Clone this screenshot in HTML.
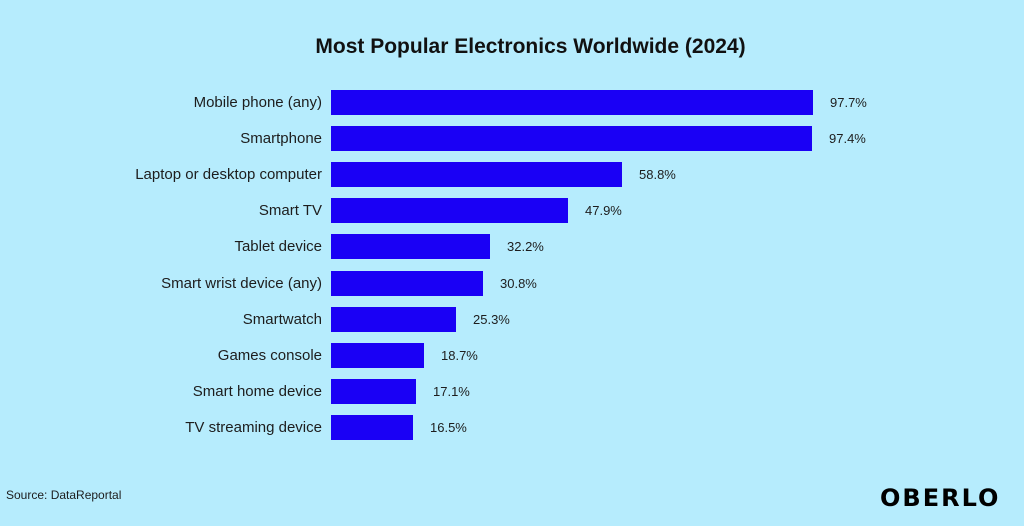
<!DOCTYPE html><html><head><style>
body{margin:0;width:1024px;height:526px;background:#b6ecfd;font-family:"Liberation Sans",sans-serif;position:relative;overflow:hidden;color:#1d1d1d}
.t{position:absolute;top:35px;left:0;width:1061px;text-align:center;font-weight:bold;font-size:21px;color:#111}
.l{position:absolute;right:702px;font-size:15px;text-align:right;white-space:nowrap;line-height:18px}
.b{position:absolute;left:331px;height:25px;background:#1a00f5}
.v{position:absolute;font-size:13px;line-height:16px}
.s{position:absolute;left:6px;top:488px;font-size:12px}
.o{position:absolute;left:880px;top:484px;font-size:24px;font-weight:900;letter-spacing:2px;color:#000;font-family:"DejaVu Sans","Liberation Sans",sans-serif}
</style></head><body>
<div class="t">Most Popular Electronics Worldwide (2024)</div>
<div class="l" style="top:94px">Mobile phone (any)</div><div class="b" style="top:90px;width:482px"></div><div class="v" style="top:95px;left:830px">97.7%</div>
<div class="l" style="top:130px">Smartphone</div><div class="b" style="top:126px;width:481px"></div><div class="v" style="top:131px;left:829px">97.4%</div>
<div class="l" style="top:166px">Laptop or desktop computer</div><div class="b" style="top:162px;width:291px"></div><div class="v" style="top:167px;left:639px">58.8%</div>
<div class="l" style="top:202px">Smart TV</div><div class="b" style="top:198px;width:237px"></div><div class="v" style="top:203px;left:585px">47.9%</div>
<div class="l" style="top:238px">Tablet device</div><div class="b" style="top:234px;width:159px"></div><div class="v" style="top:239px;left:507px">32.2%</div>
<div class="l" style="top:275px">Smart wrist device (any)</div><div class="b" style="top:271px;width:152px"></div><div class="v" style="top:276px;left:500px">30.8%</div>
<div class="l" style="top:311px">Smartwatch</div><div class="b" style="top:307px;width:125px"></div><div class="v" style="top:312px;left:473px">25.3%</div>
<div class="l" style="top:347px">Games console</div><div class="b" style="top:343px;width:93px"></div><div class="v" style="top:348px;left:441px">18.7%</div>
<div class="l" style="top:383px">Smart home device</div><div class="b" style="top:379px;width:85px"></div><div class="v" style="top:384px;left:433px">17.1%</div>
<div class="l" style="top:419px">TV streaming device</div><div class="b" style="top:415px;width:82px"></div><div class="v" style="top:420px;left:430px">16.5%</div>
<div class="s">Source: DataReportal</div>
<div class="o">OBERLO</div>
</body></html>
